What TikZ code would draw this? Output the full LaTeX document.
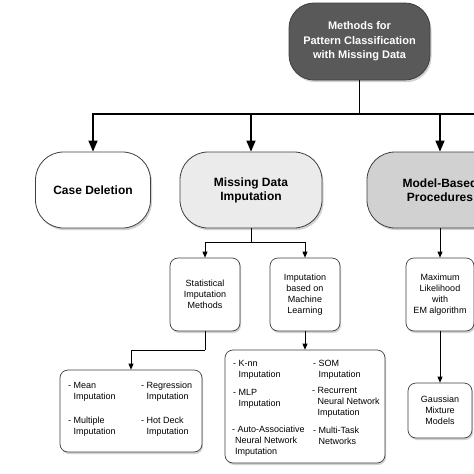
\documentclass[tikz,border=0pt]{standalone}
\usepackage{fontspec}
\setmainfont{Liberation Sans}
\usetikzlibrary{arrows.meta,shadows}
\begin{document}
\begin{tikzpicture}[x=1pt,y=-1pt,
    pill/.style={draw=black!75,line width=0.8pt,rounded corners=26pt,align=center,
      font=\bfseries\fontsize{12}{14}\selectfont,inner sep=0pt,minimum height=76pt,
      drop shadow={shadow xshift=1.5pt,shadow yshift=-2.2pt,opacity=.35}},
    box/.style={draw=black!75,line width=0.7pt,rounded corners=8pt,align=center,
      font=\fontsize{9}{11}\selectfont,inner sep=0pt,fill=white,
      drop shadow={shadow xshift=1.2pt,shadow yshift=-2pt,opacity=.35}},
    listitem/.style={anchor=west,align=left,inner sep=0pt,font=\fontsize{9}{11}\selectfont},
    topline/.style={line width=1.6pt},
    toparr/.style={line width=1.6pt,-{Triangle[length=11pt,width=9pt]}},
    subline/.style={line width=0.8pt},
    subarr/.style={line width=0.8pt,-{Triangle[length=6pt,width=5pt]}}]
  \clip (0,0) rectangle (474,474);
  \fill[white] (0,0) rectangle (474,474);
  \node[pill,fill=black!65,text=white,font=\bfseries\fontsize{11}{14.5}\selectfont,
    minimum width=141pt,minimum height=77pt,rounded corners=25pt] (root) at (359.5,41.5)
    {Methods for\\Pattern Classification\\with Missing Data};
  \node[pill,fill=white,minimum width=115pt,rounded corners=28pt] (del) at (93,190) {Case Deletion};
  \node[pill,fill=black!8,minimum width=142pt,rounded corners=28pt] (imp) at (251,190) {Missing Data\\Imputation};
  \node[pill,fill=black!18,minimum width=146pt,rounded corners=28pt] (mod) at (440,190) {Model-Based\\Procedures};
  \node[box,minimum width=70pt,minimum height=73pt] (stat) at (205,294.5) {Statistical\\Imputation\\Methods};
  \node[box,minimum width=70pt,minimum height=73pt] (ml) at (305,294.5) {Imputation\\based on\\Machine\\Learning};
  \node[box,minimum width=68pt,minimum height=73pt] (mle) at (440,294.5) {Maximum\\Likelihood\\with\\EM algorithm};
  \node[box,minimum width=64pt,minimum height=55pt] (gmm) at (440,410.5) {Gaussian\\Mixture\\Models};
  \node[box,minimum width=142pt,minimum height=82pt] (statlist) at (131,411) {};
  \node[box,minimum width=160pt,minimum height=113pt] (mllist) at (305,406.5) {};
  \node[listitem] (a1) at (68,391.5) {- Mean\\\hphantom{- }Imputation};
  \node[listitem] (a2) at (141,391.5) {- Regression\\\hphantom{- }Imputation};
  \node[listitem] (a3) at (68,427) {- Multiple\\\hphantom{- }Imputation};
  \node[listitem] (a4) at (141,427) {- Hot Deck\\\hphantom{- }Imputation};
  \node[listitem] (b1) at (233,369.5) {- K-nn\\\hphantom{- }Imputation};
  \node[listitem] (b2) at (233,398.5) {- MLP\\\hphantom{- }Imputation};
  \node[listitem] (b3) at (232,441.5) {- Auto-Associative\\\hphantom{-}Neural Network\\\hphantom{-}Imputation};
  \node[listitem] (b4) at (313,369.5) {- SOM\\\hphantom{- }Imputation};
  \node[listitem] (b5) at (312,402.5) {- Recurrent\\\hphantom{- }Neural Network\\\hphantom{- }Imputation};
  \node[listitem] (b6) at (313,436) {- Multi-Task\\\hphantom{- }Networks};
  \coordinate (j) at (359.5,114);
  \coordinate (e) at (474,114);
  \coordinate (k) at (251,242);
  \coordinate (s) at (205,350);
  \draw[topline] (root) -- (j);
  \draw[toparr] (j) -| (del);
  \draw[toparr] (j) -| (imp);
  \draw[toparr] (j) -| (mod);
  \draw[topline] (j) -- (e);
  \draw[subline] (imp) -- (k);
  \draw[subarr] (k) -| (stat);
  \draw[subarr] (k) -| (ml);
  \draw[subline] (stat) -- (s);
  \draw[subarr] (s) -| (statlist);
  \draw[subarr] (ml) -- (mllist);
  \draw[subarr] (mod) -- (mle);
  \draw[subarr] (mle) -- (gmm);
\end{tikzpicture}
\end{document}
